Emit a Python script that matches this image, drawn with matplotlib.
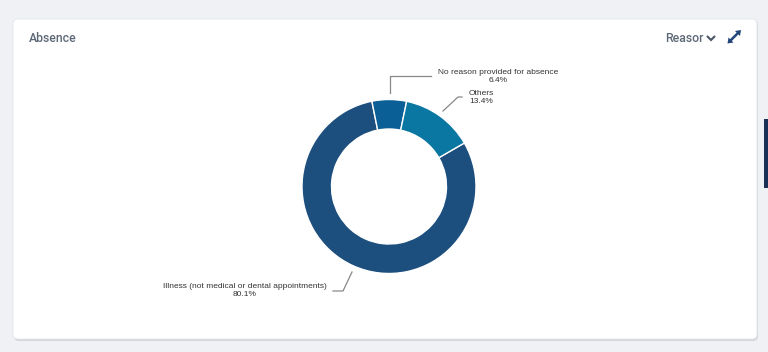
# Absence by reason - donut chart on a dashboard card
import matplotlib.pyplot as plt
from matplotlib.patches import FancyBboxPatch, Rectangle, Polygon

reasons = ['Illness (not medical or dental appointments)',
           'No reason provided for absence',
           'Others']
shares = [80.1, 6.4, 13.4]
colors = ['#1c4e7e', '#0a5f96', '#0a77a2']

plt.rcParams['font.family'] = ['Liberation Sans', 'DejaVu Sans']

W, H = 768, 352
fig = plt.figure(figsize=(W / 100, H / 100), dpi=100)
fig.patch.set_facecolor('#f0f1f5')
ax = fig.add_axes([0, 0, 1, 1])

def Y(y):
    # pixel row (top down) -> axis y
    return H - y

# card with a faint shadow
ax.add_patch(FancyBboxPatch((14, Y(341)), 744, 321, boxstyle='round,pad=0,rounding_size=5',
                            facecolor='#d3d5da', edgecolor='none', zorder=0))
ax.add_patch(FancyBboxPatch((13, Y(339)), 744, 320, boxstyle='round,pad=0,rounding_size=5',
                            facecolor='white', edgecolor='#e4e6ea', linewidth=0.6, zorder=1))
# dark tab at the right edge
ax.add_patch(Rectangle((764, Y(188)), 6, 69, facecolor='#1b3057', edgecolor='none', zorder=1))

head = dict(fontsize=8.8, color='#5d6877', va='center', ha='left',
            family=['Roboto', 'DejaVu Sans'], fontweight='medium', zorder=3)
ax.text(29, Y(38), 'Absence', **head)
ax.text(665, Y(38), 'Reasor', **head)
ax.plot([707.5, 711, 714.5], [Y(36.5), Y(40), Y(36.5)], color='#4a5565', lw=1.5,
        solid_capstyle='round', solid_joinstyle='miter', zorder=3)

# expand icon: two small diagonal arrows pointing outward
icon = '#23467a'
ax.plot([735, 737.5], [Y(36), Y(33.5)], color=icon, lw=1.8, zorder=3)
ax.add_patch(Polygon([(741, Y(30)), (735, Y(31)), (740, Y(36))], closed=True,
                     facecolor=icon, edgecolor='none', zorder=3))
ax.plot([733.5, 731], [Y(37.5), Y(40)], color=icon, lw=1.8, zorder=3)
ax.add_patch(Polygon([(727.5, Y(43.5)), (733.5, Y(42.5)), (728.5, Y(37.5))], closed=True,
                     facecolor=icon, edgecolor='none', zorder=3))

# donut
cx, cy, r_out, r_in = 389, 186.5, 87, 57.5
wedges, _ = ax.pie(shares, colors=colors, startangle=30, counterclock=False,
                   center=(cx, Y(cy)), radius=r_out, frame=True,
                   wedgeprops=dict(width=r_out - r_in, edgecolor='white', linewidth=1.0))
for w in wedges:
    w.set_zorder(2)

lbl = dict(fontsize=6, color='#333333', ha='center', va='center', zorder=3, linespacing=1.15)
line = dict(color='#888888', lw=0.9, zorder=3)

ax.plot([390, 390, 431], [Y(93), Y(75.5), Y(75.5)], **line)
ax.text(498, Y(76.5), f'{reasons[1]}\n{shares[1]}%', **lbl)

ax.plot([443, 458, 462], [Y(111), Y(97), Y(97)], **line)
ax.text(481, Y(97.5), f'{reasons[2]}\n{shares[2]}%', **lbl)

ax.plot([352, 343, 333], [Y(272), Y(291), Y(291)], **line)
ax.text(245, Y(290.5), f'{reasons[0]}\n{shares[0]}%', **lbl)

ax.set_xlim(0, W)
ax.set_ylim(0, H)
ax.set_aspect('auto')
ax.axis('off')

fig.savefig('out.png', dpi=100, facecolor=fig.get_facecolor())
